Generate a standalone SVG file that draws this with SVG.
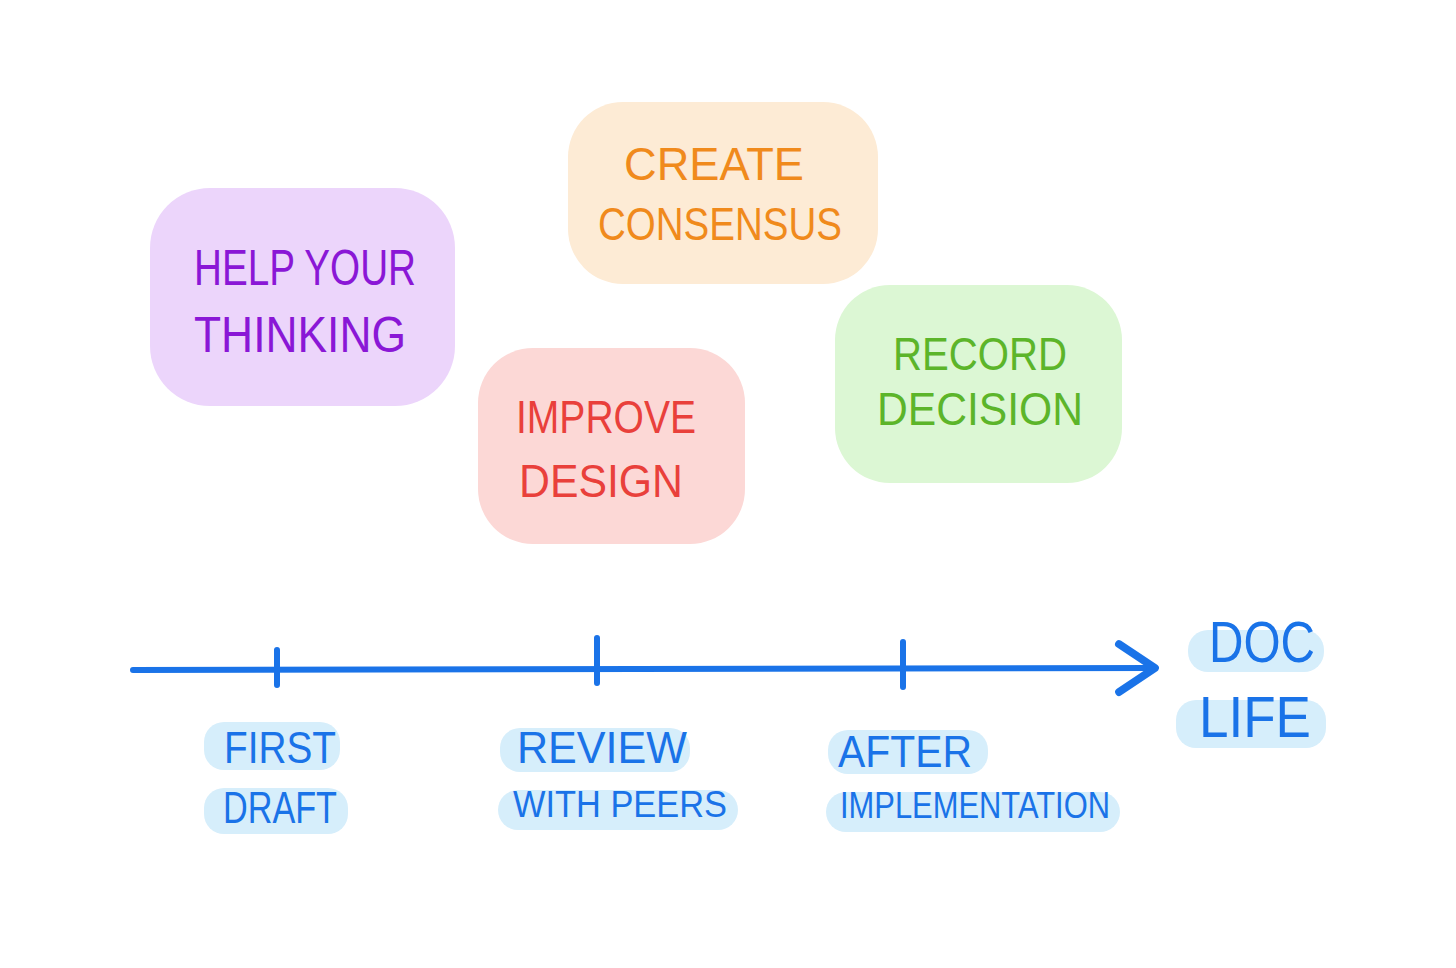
<svg xmlns="http://www.w3.org/2000/svg" width="1456" height="968" viewBox="0 0 1456 968">
<style>
.t{font-family:"Liberation Sans",Arial,sans-serif;font-weight:normal;text-anchor:middle}
.hl{fill:#d6eefb}
.lb{fill:#1a73e8;font-size:44px}
.sm{fill:#1a73e8;font-size:36px}
</style>
<defs>
<marker id="ar" markerWidth="10" markerHeight="10" refX="7" refY="5" orient="auto" markerUnits="strokeWidth">
<path d="M1,1 L7,5 L1,9" fill="none" stroke="#1a73e8" stroke-width="1.3" stroke-linecap="round" stroke-linejoin="round"/>
</marker>
</defs>
<rect width="1456" height="968" fill="#fff"/>
<g id="help">
<rect x="150" y="188" width="305" height="218" rx="60" fill="#ecd5fb"/>
<text class="t" x="305" y="285" font-size="50" fill="#8a17d6" textLength="222" lengthAdjust="spacingAndGlyphs">HELP YOUR</text>
<text class="t" x="300" y="352" font-size="50" fill="#8a17d6" textLength="212" lengthAdjust="spacingAndGlyphs">THINKING</text>
</g>
<g id="create">
<rect x="568" y="102" width="310" height="182" rx="55" fill="#fdebd5"/>
<text class="t" x="714" y="180" font-size="46" fill="#f08a1c" textLength="180" lengthAdjust="spacingAndGlyphs">CREATE</text>
<text class="t" x="720" y="240" font-size="46" fill="#f08a1c" textLength="244" lengthAdjust="spacingAndGlyphs">CONSENSUS</text>
</g>
<g id="improve">
<rect x="478" y="348" width="267" height="196" rx="55" fill="#fcd8d6"/>
<text class="t" x="606" y="433" font-size="46" fill="#e9403b" textLength="180" lengthAdjust="spacingAndGlyphs">IMPROVE</text>
<text class="t" x="601" y="497" font-size="46" fill="#e9403b" textLength="164" lengthAdjust="spacingAndGlyphs">DESIGN</text>
</g>
<g id="record">
<rect x="835" y="285" width="287" height="198" rx="55" fill="#dcf7d4"/>
<text class="t" x="980" y="370" font-size="46" fill="#5cb52a" textLength="174" lengthAdjust="spacingAndGlyphs">RECORD</text>
<text class="t" x="980" y="425" font-size="46" fill="#5cb52a" textLength="206" lengthAdjust="spacingAndGlyphs">DECISION</text>
</g>
<g id="connectors" stroke="#1a73e8" stroke-width="6" stroke-linecap="round" fill="none">
<path d="M133,670 L1155,668" marker-end="url(#ar)"/>
<path d="M277,650 V685 M597,638 V683 M903,642 V687"/>
</g>
<g id="first">
<rect class="hl" x="204" y="722" width="136" height="48" rx="20"/>
<rect class="hl" x="204" y="788" width="144" height="46" rx="20"/>
<text class="t lb" x="280" y="763" textLength="112" lengthAdjust="spacingAndGlyphs">FIRST</text>
<text class="t lb" x="280" y="823" textLength="114" lengthAdjust="spacingAndGlyphs">DRAFT</text>
</g>
<g id="review">
<rect class="hl" x="500" y="728" width="190" height="44" rx="20"/>
<rect class="hl" x="498" y="790" width="240" height="40" rx="20"/>
<text class="t lb" x="602" y="763" textLength="170" lengthAdjust="spacingAndGlyphs">REVIEW</text>
<text class="t sm" x="620" y="817" textLength="214" lengthAdjust="spacingAndGlyphs">WITH PEERS</text>
</g>
<g id="after">
<rect class="hl" x="828" y="730" width="160" height="44" rx="20"/>
<rect class="hl" x="826" y="792" width="294" height="40" rx="20"/>
<text class="t lb" x="905" y="767" textLength="134" lengthAdjust="spacingAndGlyphs">AFTER</text>
<text class="t sm" x="975" y="818" textLength="270" lengthAdjust="spacingAndGlyphs">IMPLEMENTATION</text>
</g>
<g id="doclife">
<rect class="hl" x="1188" y="630" width="136" height="42" rx="20"/>
<rect class="hl" x="1176" y="700" width="150" height="48" rx="20"/>
<text class="t" x="1262" y="662" font-size="58" fill="#1a73e8" textLength="106" lengthAdjust="spacingAndGlyphs">DOC</text>
<text class="t" x="1255" y="737" font-size="58" fill="#1a73e8" textLength="112" lengthAdjust="spacingAndGlyphs">LIFE</text>
</g>
</svg>
